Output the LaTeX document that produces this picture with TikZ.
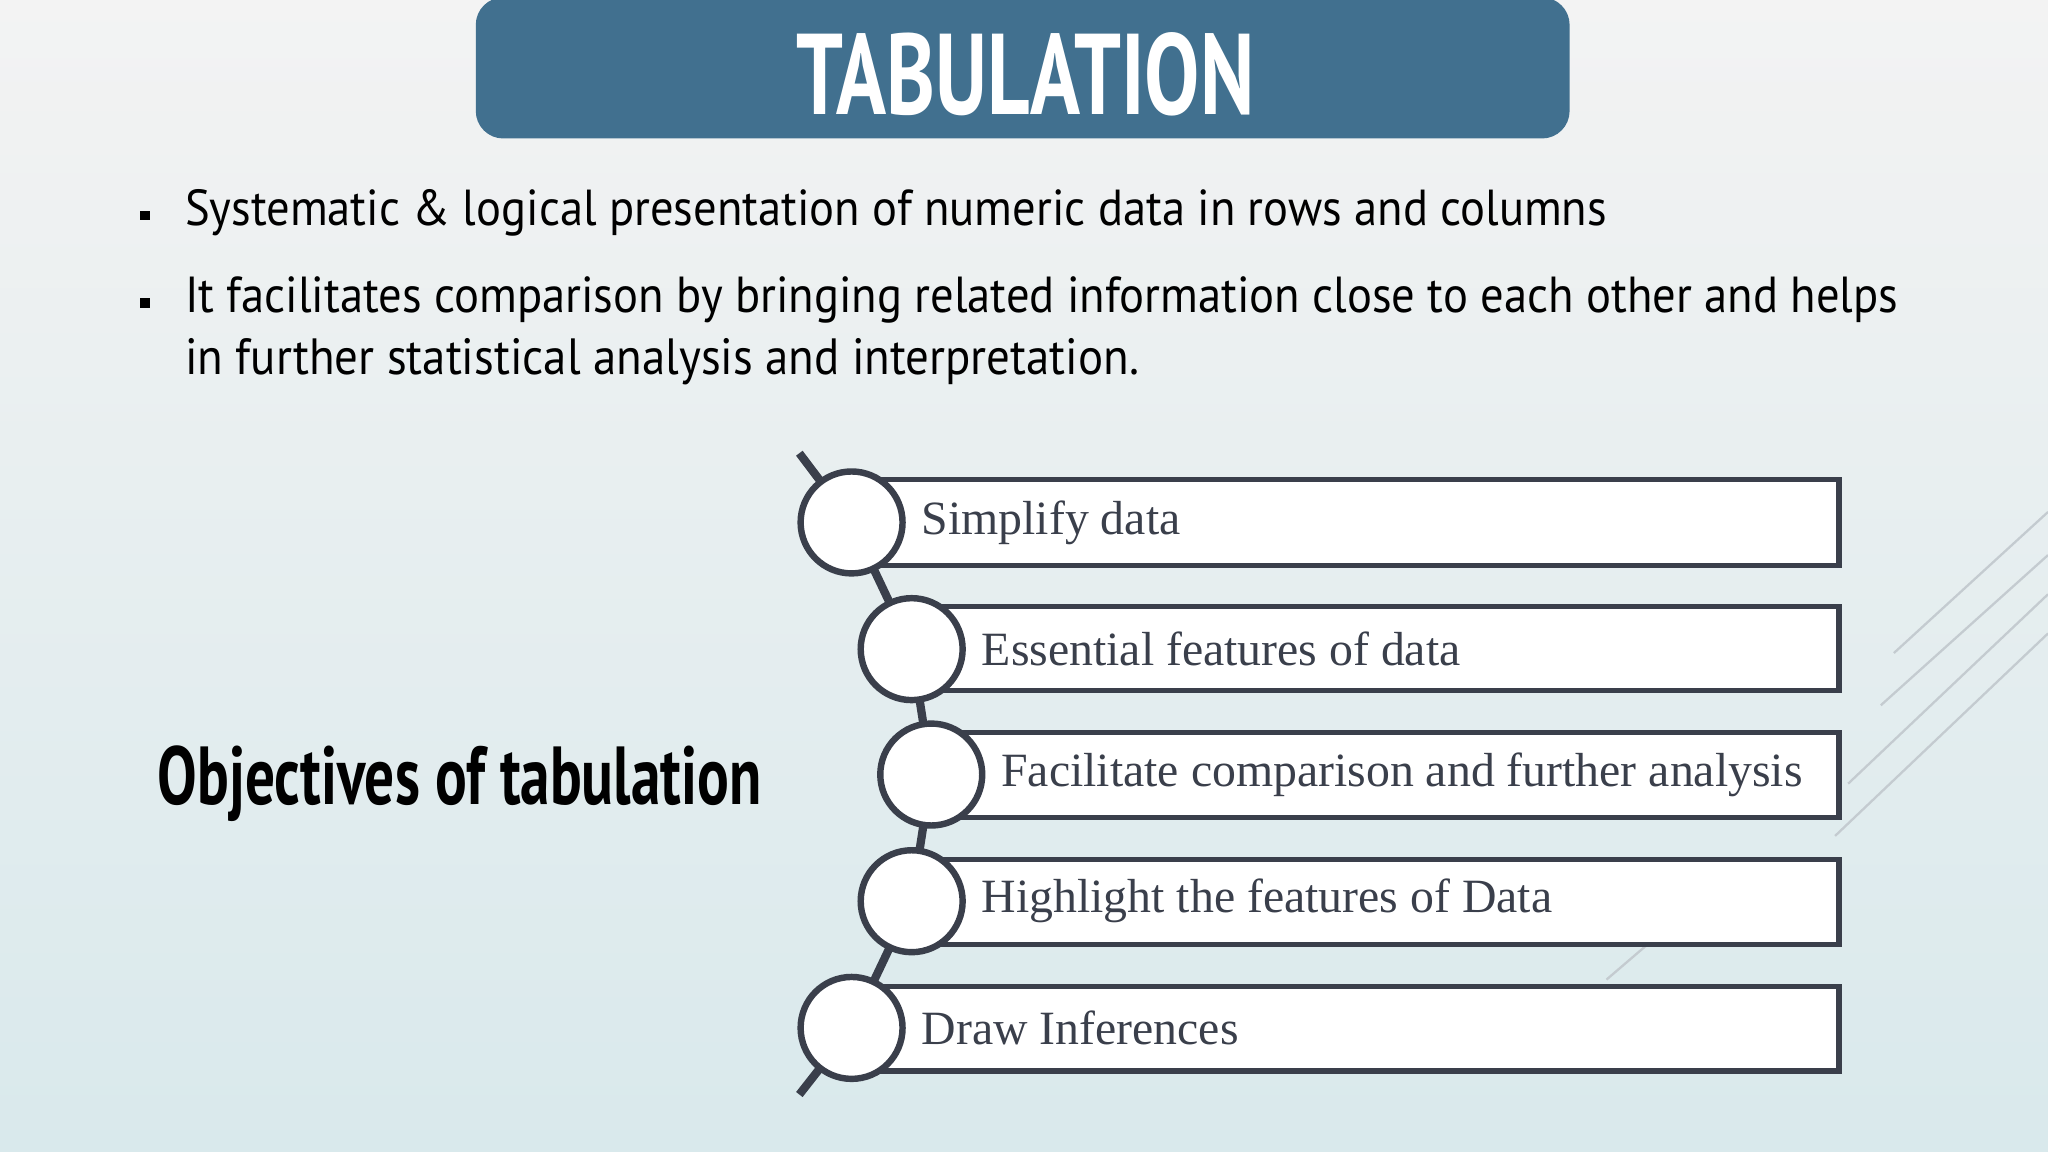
\documentclass[tikz,border=0pt]{standalone}
\usepackage{fontspec}
\setmainfont{Liberation Serif}
\newfontfamily\headfont{PT Sans}
\definecolor{titlebg}{HTML}{41708F}
\definecolor{ink}{HTML}{3A3F4B}
\definecolor{bgtop}{HTML}{F3F3F3}
\definecolor{bgbot}{HTML}{D9E9EC}
\definecolor{deco}{HTML}{C4CBD0}
\tikzset{
  rowbox/.style={draw=ink, line width=1.1pt, fill=white},
  ring/.style={circle, draw=ink, line width=1.4pt, fill=white, minimum size=0.78cm, inner sep=0pt},
  rowtext/.style={anchor=west, inner sep=0pt, text=ink, font=\fontsize{10.4}{12}\selectfont},
  bullettext/.style={anchor=west, inner sep=0pt, font=\headfont},
}
\begin{document}
\begin{tikzpicture}[x=0.01cm,y=-0.01cm]
\useasboundingbox (0,0) rectangle (1568,882);
\shade[top color=bgtop, bottom color=bgbot] (0,0) rectangle (1568,882);
% decorative lines
\draw[deco, line width=0.5pt] (1450,500) -- (1568,392);
\draw[deco, line width=0.5pt] (1440,540) -- (1568,425);
\draw[deco, line width=0.5pt] (1405,640) -- (1568,485);
\draw[deco, line width=0.5pt] (1415,600) -- (1568,455);
\draw[deco, line width=0.5pt] (1230,750) -- (1300,690);
% title
\node[fill=titlebg, rounded corners=6pt, minimum width=8.37cm, minimum height=1.08cm, inner sep=0pt] (title) at (783,52) {};
\node[text=white, inner sep=0pt] (ttext) at (785,57) {\headfont\bfseries\scalebox{0.72}[1]{\fontsize{25}{28}\selectfont TABULATION}};
% bullets
\node[fill=black, minimum size=0.07cm, inner sep=0pt] (b1) at (111,165) {};
\node[fill=black, minimum size=0.07cm, inner sep=0pt] (b2) at (111,232) {};
\node[bullettext] (t1) at (141,163) {\resizebox{10.88cm}{!}{\scalebox{0.92}[1]{Systematic \& logical presentation of numeric data in rows and columns}}};
\node[bullettext] (t2) at (141,230) {\resizebox{13.11cm}{!}{\scalebox{0.92}[1]{It facilitates comparison by bringing related information close to each other and helps}}};
\node[bullettext] (t3) at (141,277) {\resizebox{7.30cm}{!}{\scalebox{0.92}[1]{in further statistical analysis and interpretation.}}};
\node[anchor=west, inner sep=0pt] (obj) at (120,600) {\headfont\bfseries\resizebox{4.62cm}{!}{\scalebox{0.72}[1]{Objectives of tabulation}}};
% rows
\draw[rowbox] (650,367) rectangle (1408,433);
\draw[rowbox] (697,464) rectangle (1408,529);
\draw[rowbox] (712,561) rectangle (1408,626);
\draw[rowbox] (697,658) rectangle (1408,723);
\draw[rowbox] (650,755) rectangle (1408,820);
% spine
\coordinate (s0) at (612,347);
\coordinate (s6) at (612,838);
\coordinate (c1) at (652,400);
\coordinate (c2) at (698,497);
\coordinate (c3) at (713,593);
\coordinate (c4) at (698,690);
\coordinate (c5) at (652,787);
\draw[ink, line width=1.8pt] (s0) -- (c1) -- (c2) -- (c3) -- (c4) -- (c5) -- (s6);
\foreach \c in {c1,c2,c3,c4,c5} \node[ring] (n\c) at (\c) {};
\node[rowtext] (r1) at (705,400) {Simplify data};
\node[rowtext] (r2) at (751,497) {Essential features of data};
\node[rowtext] (r3) at (766,593) {Facilitate comparison and further analysis};
\node[rowtext] (r4) at (751,690) {Highlight the features of Data};
\node[rowtext] (r5) at (705,787) {Draw Inferences};
\end{tikzpicture}
\end{document}
